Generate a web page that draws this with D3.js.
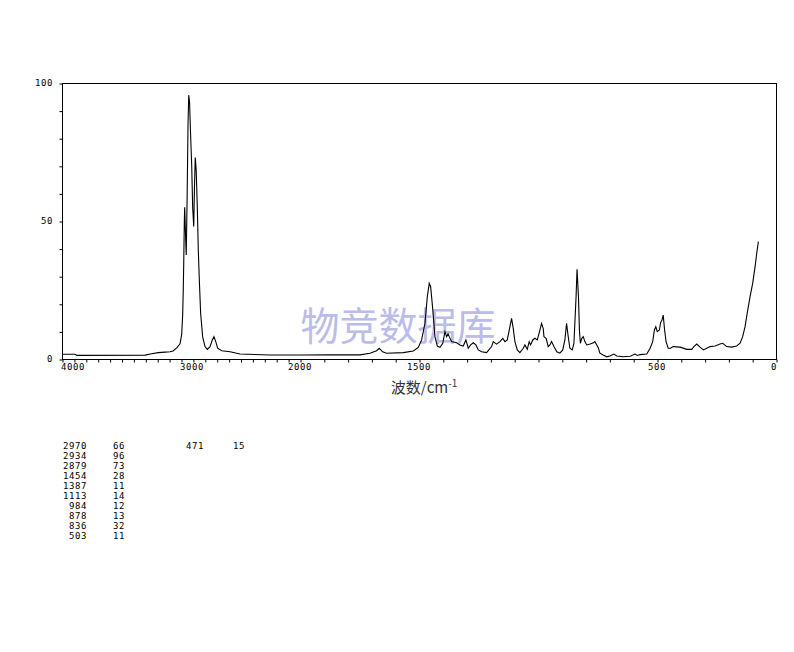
<!DOCTYPE html>
<html><head><meta charset="utf-8">
<script src="https://cdn.jsdelivr.net/npm/d3@7"></script>
<style>
html,body{margin:0;padding:0;background:#fff;}
svg{display:block;}
.num{font-family:"DejaVu Sans Mono",monospace;font-size:9px;fill:#000;letter-spacing:0.6px;}
</style></head>
<body>
<svg id="chart" width="794" height="652"></svg>
<script>
// ---- data ----
const wavenumbers = [4000,3891,3874,3302,3246,3191,3134,3092,3067,3036,3008,2994,2986,2981,2977,2972,2969,2962,2956,2948,2941,2935,2928,2920,2910,2902,2893,2887,2880,2872,2863,2855,2846,2835,2818,2798,2779,2756,2737,2723,2708,2692,2658,2588,2504,2252,2000,
1874,1748,1706,1678,1667,1653,1636,1566,1524,1503,1489,1475,1465,1457,1451,1442,1433,1423,1412,1400,1391,1384,1378,1373,1363,1342,1328,1314,1303,1293,1283,1272,1261,1251,1237,1216,1195,1188,1174,1160,1148,1139,1129,1118,1111,1104,1097,1087,1076,1062,1055,1045,1037,1031,1022,1013,1003,992,985,978,975,966,957,950,943,933,921,908,896,887,880,873,866,856,849,840,836,830,826,822,816,810,803,795,781,767,761,753,746,740,726,711,698,681,669,642,613,592,583,571,543,529,518,511,505,499,490,485,479,474,468,462,453,443,432,403,375,354,345,333,319,305,291,277,256,235,224,207,186,165,151,140,130,121,109,98,88,81,74];
const intensities = [1.7,1.7,1.3,1.4,1.9,2.3,2.5,2.6,2.9,4.0,5.5,9,16,25,35,50,55,45,37.7,60,85,95.6,93,82,70,55,48,62,73,68,55,40,28.6,16.6,8,4.5,3.5,4.5,6.9,8.1,6.3,3.9,3.0,2.6,1.8,1.45,1.45,
1.5,1.5,2.1,3.0,3.9,2.6,2.1,2.3,2.9,4.2,6.9,12.9,22.6,27.4,26.2,17.8,8.1,4.7,4.2,5.7,9.9,8.1,9.1,8.1,6.3,5.9,5.1,4.7,6.9,3.9,5.1,5.9,5.1,3.3,2.6,2.3,4.5,6.3,5.4,6.3,7.5,6.3,6.9,11.7,14.7,11.1,6.3,3.3,2.3,3.9,5.1,3.5,6.3,5.1,6.9,7.5,6.9,10.5,12.9,11,8.1,7.5,4.5,5.1,6.3,4.5,2.6,2.1,3.3,6.9,12.9,8.1,3.9,3.3,5.7,22.6,32.5,22.6,10.5,5.7,7.5,8.1,6.3,5.1,5.4,5.9,6.3,5.1,3.9,2.1,1.45,0.8,1.1,1.8,1.1,0.8,1.0,1.8,1.3,1.6,1.8,3.9,6.3,10.5,11.7,9.9,10.5,13.2,14.1,15.9,10.5,6.3,3.9,3.9,4.5,4.3,3.5,3.5,4.5,5.4,4.3,3.3,3.9,4.5,4.7,5.4,5.7,4.5,4.3,4.7,5.7,8.1,11.7,16.6,22.6,27.4,33.4,38.3,42.5];
const xTickValues = d3.range(4000, -1, -100);
const xTickLabels = [4000, 3000, 2000, 1500, 500, 0];
const yTickValues = d3.range(0, 101, 10);
const yTickLabels = [0, 50, 100];
const peakWn = [2970, 2934, 2879, 1454, 1387, 1113, 984, 878, 836, 503, 471];
const peakInt = [66, 96, 73, 28, 11, 14, 12, 13, 32, 11, 15];
const xTitle = "波数/cm";
const xTitleSup = "-1";
const watermark = "物竞数据库";

// ---- layout ----
const L = 62, R = 776, T = 83, B = 359;
const svg = d3.select("#chart");
const x = d3.scaleLinear().domain([4000, 2000, 0]).range([L, L + (R - L) / 3, R]);
const y = d3.scaleLinear().domain([0, 100]).range([B, T]);

// watermark
svg.append("text").attr("x", 398).attr("y", 340).attr("text-anchor", "middle")
  .attr("font-family", "Noto Sans CJK SC").attr("font-size", 39)
  .attr("fill", "#bcbce8").text(watermark);

// frame
svg.append("rect").attr("x", L + 0.5).attr("y", T + 0.5)
  .attr("width", R - L).attr("height", B - T)
  .attr("fill", "none").attr("stroke", "#000").attr("stroke-width", 1);

// x axis
const gx = svg.append("g").attr("transform", `translate(0.5,${B + 0.5})`);
gx.call(d3.axisBottom(x).tickValues(xTickValues).tickSize(3).tickFormat(""));
gx.select(".domain").remove();
gx.selectAll(".tick line").attr("stroke", "#000");
xTickLabels.forEach(v => {
  const anchor = v >= 3000 ? "start" : (v === 0 ? "end" : "middle");
  const dx = v >= 3000 ? -1 : (v === 0 ? 1 : 0);
  svg.append("text").attr("class", "num").attr("x", x(v) + dx).attr("y", 369.5)
    .attr("text-anchor", anchor).text(v);
});

// y axis
const gy = svg.append("g").attr("transform", `translate(${L + 0.5},0.5)`);
gy.call(d3.axisLeft(y).tickValues(yTickValues).tickSize(3).tickFormat(""));
gy.select(".domain").remove();
gy.selectAll(".tick line").attr("stroke", "#000");
yTickLabels.forEach(v => {
  svg.append("text").attr("class", "num").attr("x", 53).attr("y", y(v) + 3)
    .attr("text-anchor", "end").text(v);
});

// axis title
const tt = svg.append("text").attr("x", 424).attr("y", 393).attr("text-anchor", "middle")
  .attr("font-family", "Noto Sans CJK SC").attr("font-size", 15).attr("fill", "#333");
tt.append("tspan").text(xTitle);
tt.append("tspan").attr("font-size", 10).attr("dy", -6).text(xTitleSup);

// spectrum
const pts = wavenumbers.map((w, i) => [w, intensities[i]]);
svg.append("path").datum(pts)
  .attr("fill", "none").attr("stroke", "#000").attr("stroke-width", 1.1)
  .attr("d", d3.line().x(d => x(d[0])).y(d => y(d[1])));

// peak table
peakWn.forEach((w, i) => {
  const col = Math.floor(i / 10), row = i % 10;
  const baseX = col === 0 ? 87 : 204;
  const yy = 449 + row * 10.03;
  svg.append("text").attr("class", "num").attr("x", baseX).attr("y", yy)
    .attr("text-anchor", "end").text(w);
  svg.append("text").attr("class", "num").attr("x", baseX + 26 + (col ? 3 : 0)).attr("y", yy)
    .attr("text-anchor", "start").text(peakInt[i]);
});
</script>
</body></html>
